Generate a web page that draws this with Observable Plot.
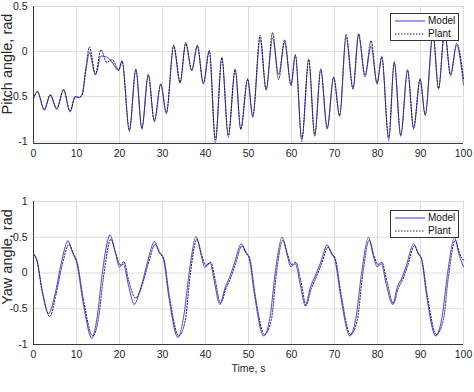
<!DOCTYPE html>
<html>
<head>
<meta charset="utf-8">
<script src="https://cdn.jsdelivr.net/npm/d3@7"></script>
<script src="https://cdn.jsdelivr.net/npm/@observablehq/plot@0.6"></script>
<style>
  html, body { margin: 0; padding: 0; background: #fff; }
  #wrap { position: relative; width: 474px; height: 392px; font-family: "Liberation Sans", Arial, sans-serif; overflow: hidden; }
  .panel { position: absolute; left: 0; }
  .legend { position: absolute; background: #fff; border: 1px solid #333; font-size: 10px; color: #111; line-height: 13px; padding: 0 3px 0 4px; }
  .legend div { display: flex; align-items: center; white-space: nowrap; }
  .legend svg { margin-right: 3px; }
</style>
</head>
<body>
<div id="wrap"></div>
<script>
// ---- Data ----
const xTicks = [0, 10, 20, 30, 40, 50, 60, 70, 80, 90, 100];
const pitchTicks = [-1, -0.5, 0, 0.5];
const yawTicks = [-1, -0.5, 0, 0.5, 1];
const seriesNames = ["Model", "Plant"];
const yLabels = ["Pitch angle, rad", "Yaw angle, rad"];
const xLabel = "Time, s";

const pitchModelT = [0,0.9,2.5,3.9,5.4,7.0,8.5,9.7,10.6,11.3,12.2,13.0,14.4,15.7,17.0,18.3,19.8,20.6,22.3,23.8,25.2,26.7,28.1,29.6,30.9,32.6,34.1,35.4,36.8,38.1,39.5,40.9,42.3,43.8,45.3,46.9,48.2,49.8,51.0,52.7,54.1,55.6,57.0,58.4,59.9,60.9,62.4,64.0,65.4,66.8,68.3,69.8,71.2,72.7,74.3,75.6,77.1,78.5,79.9,81.0,82.6,83.9,85.4,87.0,88.4,89.9,91.1,92.9,94.2,95.6,97.0,98.4,100];
const pitchModelV = [-0.52,-0.44,-0.65,-0.48,-0.64,-0.42,-0.67,-0.50,-0.51,-0.48,-0.20,-0.01,-0.26,-0.05,-0.06,-0.12,-0.21,-0.10,-0.89,-0.19,-0.86,-0.25,-0.78,-0.36,-0.69,0.06,-0.35,0.09,-0.21,0.06,-0.36,0.01,-1.02,-0.06,-0.95,-0.19,-0.87,-0.30,-0.73,0.14,-0.43,0.15,-0.25,0.10,-0.38,-0.03,-1.00,-0.08,-0.94,-0.19,-0.86,-0.28,-0.72,0.16,-0.42,0.18,-0.26,0.06,-0.36,-0.05,-0.99,-0.11,-0.94,-0.20,-0.86,-0.30,-0.71,0.20,-0.42,0.22,-0.25,0.07,-0.37];

const pitchPlantT = [0,0.9,2.5,3.9,5.4,7.0,8.5,9.7,10.6,11.3,12.2,13.0,14.4,15.7,17.0,18.3,19.8,20.6,22.3,23.8,25.2,26.7,28.1,29.6,30.9,32.6,34.1,35.4,36.8,38.1,39.5,40.9,42.3,43.8,45.3,46.9,48.2,49.8,51.0,52.7,54.1,55.6,57.0,58.4,59.9,60.9,62.4,64.0,65.4,66.8,68.3,69.8,71.2,72.7,74.3,75.6,77.1,78.5,79.9,81.0,82.6,83.9,85.4,87.0,88.4,89.9,91.1,92.9,94.2,95.6,97.0,98.4,100];
const pitchPlantV = [-0.52,-0.45,-0.64,-0.48,-0.63,-0.43,-0.66,-0.50,-0.51,-0.48,-0.18,0.05,-0.25,0.02,-0.12,-0.09,-0.20,-0.11,-0.87,-0.20,-0.85,-0.26,-0.77,-0.36,-0.68,0.07,-0.34,0.10,-0.21,0.07,-0.35,0.01,-0.98,-0.07,-0.93,-0.20,-0.86,-0.31,-0.72,0.18,-0.42,0.21,-0.31,0.13,-0.37,-0.04,-0.97,-0.09,-0.93,-0.20,-0.85,-0.29,-0.71,0.19,-0.41,0.20,-0.28,0.12,-0.35,-0.06,-0.96,-0.12,-0.93,-0.21,-0.85,-0.31,-0.70,0.21,-0.41,0.23,-0.27,0.09,-0.30];

const yawModelT = [0,0.8,2.0,3.5,5.0,6.5,8.0,9.0,10.1,11.5,13.6,14.8,16.0,17.8,19.0,20.0,20.9,22.0,23.4,25.0,26.5,28.1,29.2,30.2,31.5,33.6,35.0,36.2,37.8,39.0,39.8,41.1,42.0,43.3,44.6,45.6,46.8,48.3,49.3,50.1,51.5,53.5,55.0,56.2,57.8,59.0,59.8,60.9,62.0,63.2,64.4,65.4,66.8,68.3,69.3,70.0,71.5,73.5,75.0,76.3,77.9,79.0,79.9,80.9,82.0,83.5,84.6,85.6,86.8,88.4,89.4,90.2,91.5,93.5,95.0,96.3,97.9,99.0,100];
const yawModelV = [0.27,0.18,-0.25,-0.57,-0.30,0.15,0.45,0.30,0.13,-0.40,-0.91,-0.62,0.00,0.53,0.30,0.08,0.13,-0.15,-0.44,-0.20,0.15,0.44,0.30,0.20,-0.35,-0.90,-0.58,0.00,0.51,0.25,0.08,0.14,-0.10,-0.44,-0.20,-0.06,0.15,0.41,0.30,0.22,-0.35,-0.88,-0.62,0.00,0.50,0.25,0.09,0.13,-0.15,-0.46,-0.20,-0.06,0.15,0.39,0.27,0.21,-0.35,-0.88,-0.62,0.00,0.50,0.25,0.09,0.13,-0.15,-0.44,-0.20,-0.08,0.12,0.41,0.28,0.20,-0.35,-0.88,-0.62,0.00,0.50,0.25,0.09];

const yawPlantT = [0,0.8,2.0,3.8,5.2,6.7,8.3,9.2,10.2,11.6,13.8,15.1,16.3,18.0,19.1,20.2,21.0,22.2,23.7,25.2,26.7,28.3,29.3,30.3,31.6,33.8,35.3,36.4,38.0,39.1,40.0,41.2,42.2,43.5,44.8,45.8,47.0,48.5,49.4,50.3,51.6,53.7,55.3,56.4,58.0,59.1,60.0,61.0,62.2,63.4,64.6,65.6,67.0,68.5,69.5,70.2,71.6,73.7,75.3,76.5,78.1,79.1,80.1,81.0,82.2,83.7,84.8,85.8,87.0,88.6,89.5,90.3,91.6,93.7,95.3,96.5,98.1,99.1,100];
const yawPlantV = [0.26,0.17,-0.24,-0.61,-0.31,0.12,0.40,0.28,0.14,-0.37,-0.88,-0.64,-0.05,0.47,0.28,0.11,0.16,-0.12,-0.35,-0.18,0.13,0.40,0.28,0.20,-0.32,-0.88,-0.66,-0.05,0.47,0.26,0.11,0.15,-0.08,-0.42,-0.21,-0.08,0.13,0.38,0.28,0.20,-0.32,-0.86,-0.66,-0.05,0.46,0.26,0.12,0.15,-0.12,-0.45,-0.22,-0.08,0.13,0.36,0.26,0.20,-0.32,-0.86,-0.66,-0.05,0.46,0.26,0.12,0.15,-0.12,-0.43,-0.22,-0.10,0.10,0.38,0.27,0.19,-0.32,-0.86,-0.66,-0.05,0.46,0.27,0.18];

// ---- Styles ----
const modelColor = "#5a5ae6";
const plantColor = "#1c1c48";
const gridColor = "#dedede";
const axisColor = "#3a3a3a";
const fontFam = "\"Liberation Sans\", Arial, sans-serif";

function toRows(ts, vs) { return ts.map((t, i) => ({t, v: vs[i]})); }
const fmt = d => String(d);

function makePanel({modelT, modelV, plantT, plantV, yDomain, yTicks, yLabel, xLab, height, marginTop, marginBottom, labelDy}) {
  return Plot.plot({
    width: 474, height, marginLeft: 33, marginRight: 11, marginTop, marginBottom,
    style: {fontFamily: fontFam, fontSize: "10.5px", color: "#262626", background: "transparent", overflow: "visible"},
    x: {domain: [0, 100], axis: null},
    y: {domain: yDomain, axis: null},
    marks: [
      Plot.gridX(xTicks, {stroke: gridColor, strokeOpacity: 1}),
      Plot.gridY(yTicks, {stroke: gridColor, strokeOpacity: 1}),
      Plot.axisX(xTicks, {tickSize: 0, tickPadding: 6, tickFormat: fmt, fontSize: 10.5, fill: "#262626",
        label: xLab, labelAnchor: "center", labelArrow: "none", labelOffset: 27}),
      Plot.axisY(yTicks, {tickSize: 0, tickPadding: 6, tickFormat: fmt, fontSize: 10.5, fill: "#262626", label: null}),
      Plot.text([yLabel], {frameAnchor: "left", textAnchor: "middle", lineAnchor: "middle", text: d => d, rotate: -90, dx: -26, dy: labelDy, fontSize: 14.5, fill: "#262626"}),
      Plot.ruleX([0], {stroke: axisColor}),
      Plot.ruleY([yDomain[0]], {stroke: axisColor}),
      Plot.line(toRows(modelT, modelV), {x: "t", y: "v", stroke: modelColor, strokeWidth: 1.1, curve: "monotone-x"}),
      Plot.line(toRows(plantT, plantV), {x: "t", y: "v", stroke: plantColor, strokeWidth: 1, strokeDasharray: "1.4,1.6", curve: "monotone-x"})
    ]
  });
}

const wrap = document.getElementById("wrap");

const pitchChart = makePanel({modelT: pitchModelT, modelV: pitchModelV, plantT: pitchPlantT, plantV: pitchPlantV,
  yDomain: [-1.02, 0.5], yTicks: pitchTicks, yLabel: yLabels[0], xLab: null,
  height: 170, marginTop: 6, marginBottom: 27, labelDy: -11});
const topDiv = document.createElement("div"); topDiv.className = "panel"; topDiv.style.top = "0px";
topDiv.appendChild(pitchChart); wrap.appendChild(topDiv);

const yawChart = makePanel({modelT: yawModelT, modelV: yawModelV, plantT: yawPlantT, plantV: yawPlantV,
  yDomain: [-1, 1], yTicks: yawTicks, yLabel: yLabels[1], xLab: xLabel,
  height: 202, marginTop: 11, marginBottom: 48, labelDy: -16});
const botDiv = document.createElement("div"); botDiv.className = "panel"; botDiv.style.top = "190px";
botDiv.appendChild(yawChart); wrap.appendChild(botDiv);

function legend(left, topPx) {
  const lg = document.createElement("div");
  lg.className = "legend";
  lg.style.left = left + "px"; lg.style.top = topPx + "px";
  seriesNames.forEach((name, i) => {
    const row = document.createElement("div");
    const dash = i === 0 ? "" : "stroke-dasharray='1.4,1.6'";
    const col = i === 0 ? modelColor : plantColor;
    row.innerHTML = `<svg width="30" height="6"><line x1="0" y1="3" x2="30" y2="3" stroke="${col}" stroke-width="1.2" ${dash}/></svg><span>${name}</span>`;
    lg.appendChild(row);
  });
  wrap.appendChild(lg);
}
legend(390, 13);
legend(390, 210);
</script>
</body>
</html>
